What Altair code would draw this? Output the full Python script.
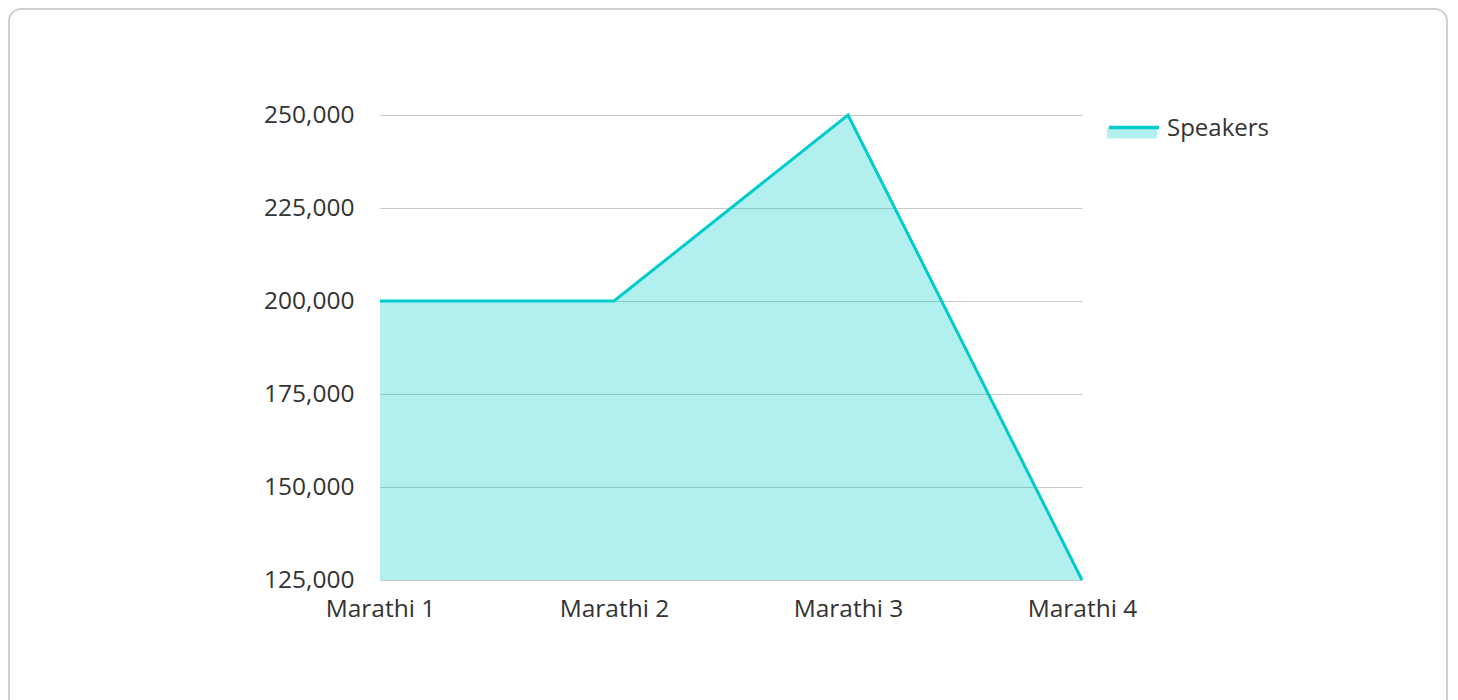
import altair as alt
import pandas as pd

categories = ["Marathi 1", "Marathi 2", "Marathi 3", "Marathi 4"]
speakers = [200000, 200000, 250000, 125000]
series_name = "Speakers"
y_ticks = [125000, 150000, 175000, 200000, 225000, 250000]
y_min, y_max = 125000, 250000

df = pd.DataFrame({
    "Language": categories,
    "Speakers": speakers,
    "Base": [y_min] * len(categories),
    "Series": [series_name] * len(categories),
})

W, H = 702, 465
FONT = "Open Sans"
LINE = "#00cccc"
TEXT = "#333333"
LEG_X, LEG_Y = 727, -13

x_enc = alt.X("Language:N", sort=categories,
              scale=alt.Scale(type="point", padding=0),
              axis=alt.Axis(title=None, labelAngle=0, ticks=False, domain=False,
                            labelPadding=17, grid=False))
y_enc = alt.Y("Speakers:Q",
              scale=alt.Scale(domain=[y_min, y_max], nice=False, zero=False),
              axis=alt.Axis(title=None, ticks=False, domain=False, format=",d",
                            values=y_ticks, labelPadding=26, grid=True))

fill_enc = alt.Fill("Series:N",
                    scale=alt.Scale(domain=[series_name], range=[LINE]),
                    legend=alt.Legend(title=None, orient="none", legendX=LEG_X, legendY=LEG_Y,
                                      symbolType="M-1,0.02H1V0.46H-1Z", symbolSize=2500,
                                      symbolStrokeWidth=0, labelOffset=6,
                                      labelExpr="''"))
stroke_enc = alt.Stroke("Series:N",
                        scale=alt.Scale(domain=[series_name], range=[LINE]),
                        legend=alt.Legend(title=None, orient="none", legendX=LEG_X, legendY=LEG_Y,
                                          symbolType="M-1,-0.06H1", symbolSize=2500,
                                          symbolStrokeWidth=3.5, labelOffset=6))

base = alt.Chart(df)

area = base.mark_area(opacity=0.3).encode(
    x=x_enc, y=y_enc, y2="Base:Q", fill=fill_enc,
)
line = base.mark_line(strokeWidth=3).encode(x=x_enc, y=y_enc, stroke=stroke_enc)

card = alt.Chart(pd.DataFrame({"a": [0]})).mark_rect(
    fill="transparent", stroke="#d0d0d0", strokeWidth=2, cornerRadius=12
).encode(x=alt.value(-371), x2=alt.value(1067), y=alt.value(-106), y2=alt.value(640))

chart = alt.layer(card, area, line).resolve_legend(fill="independent", stroke="independent").properties(
    width=W, height=H,
    background="white",
    autosize=alt.AutoSizeParams(type="none"),
    padding={"left": 372, "top": 107, "right": 366, "bottom": 120},
).configure_view(stroke=None).configure_axis(
    labelFont=FONT, labelFontSize=24.5, labelColor=TEXT,
    gridColor="#c8c8c8", gridWidth=1.2,
).configure_legend(
    labelFont=FONT, labelFontSize=24, labelColor=TEXT,
)

chart.save("out.html", embed_options={"renderer": "svg", "actions": False})
